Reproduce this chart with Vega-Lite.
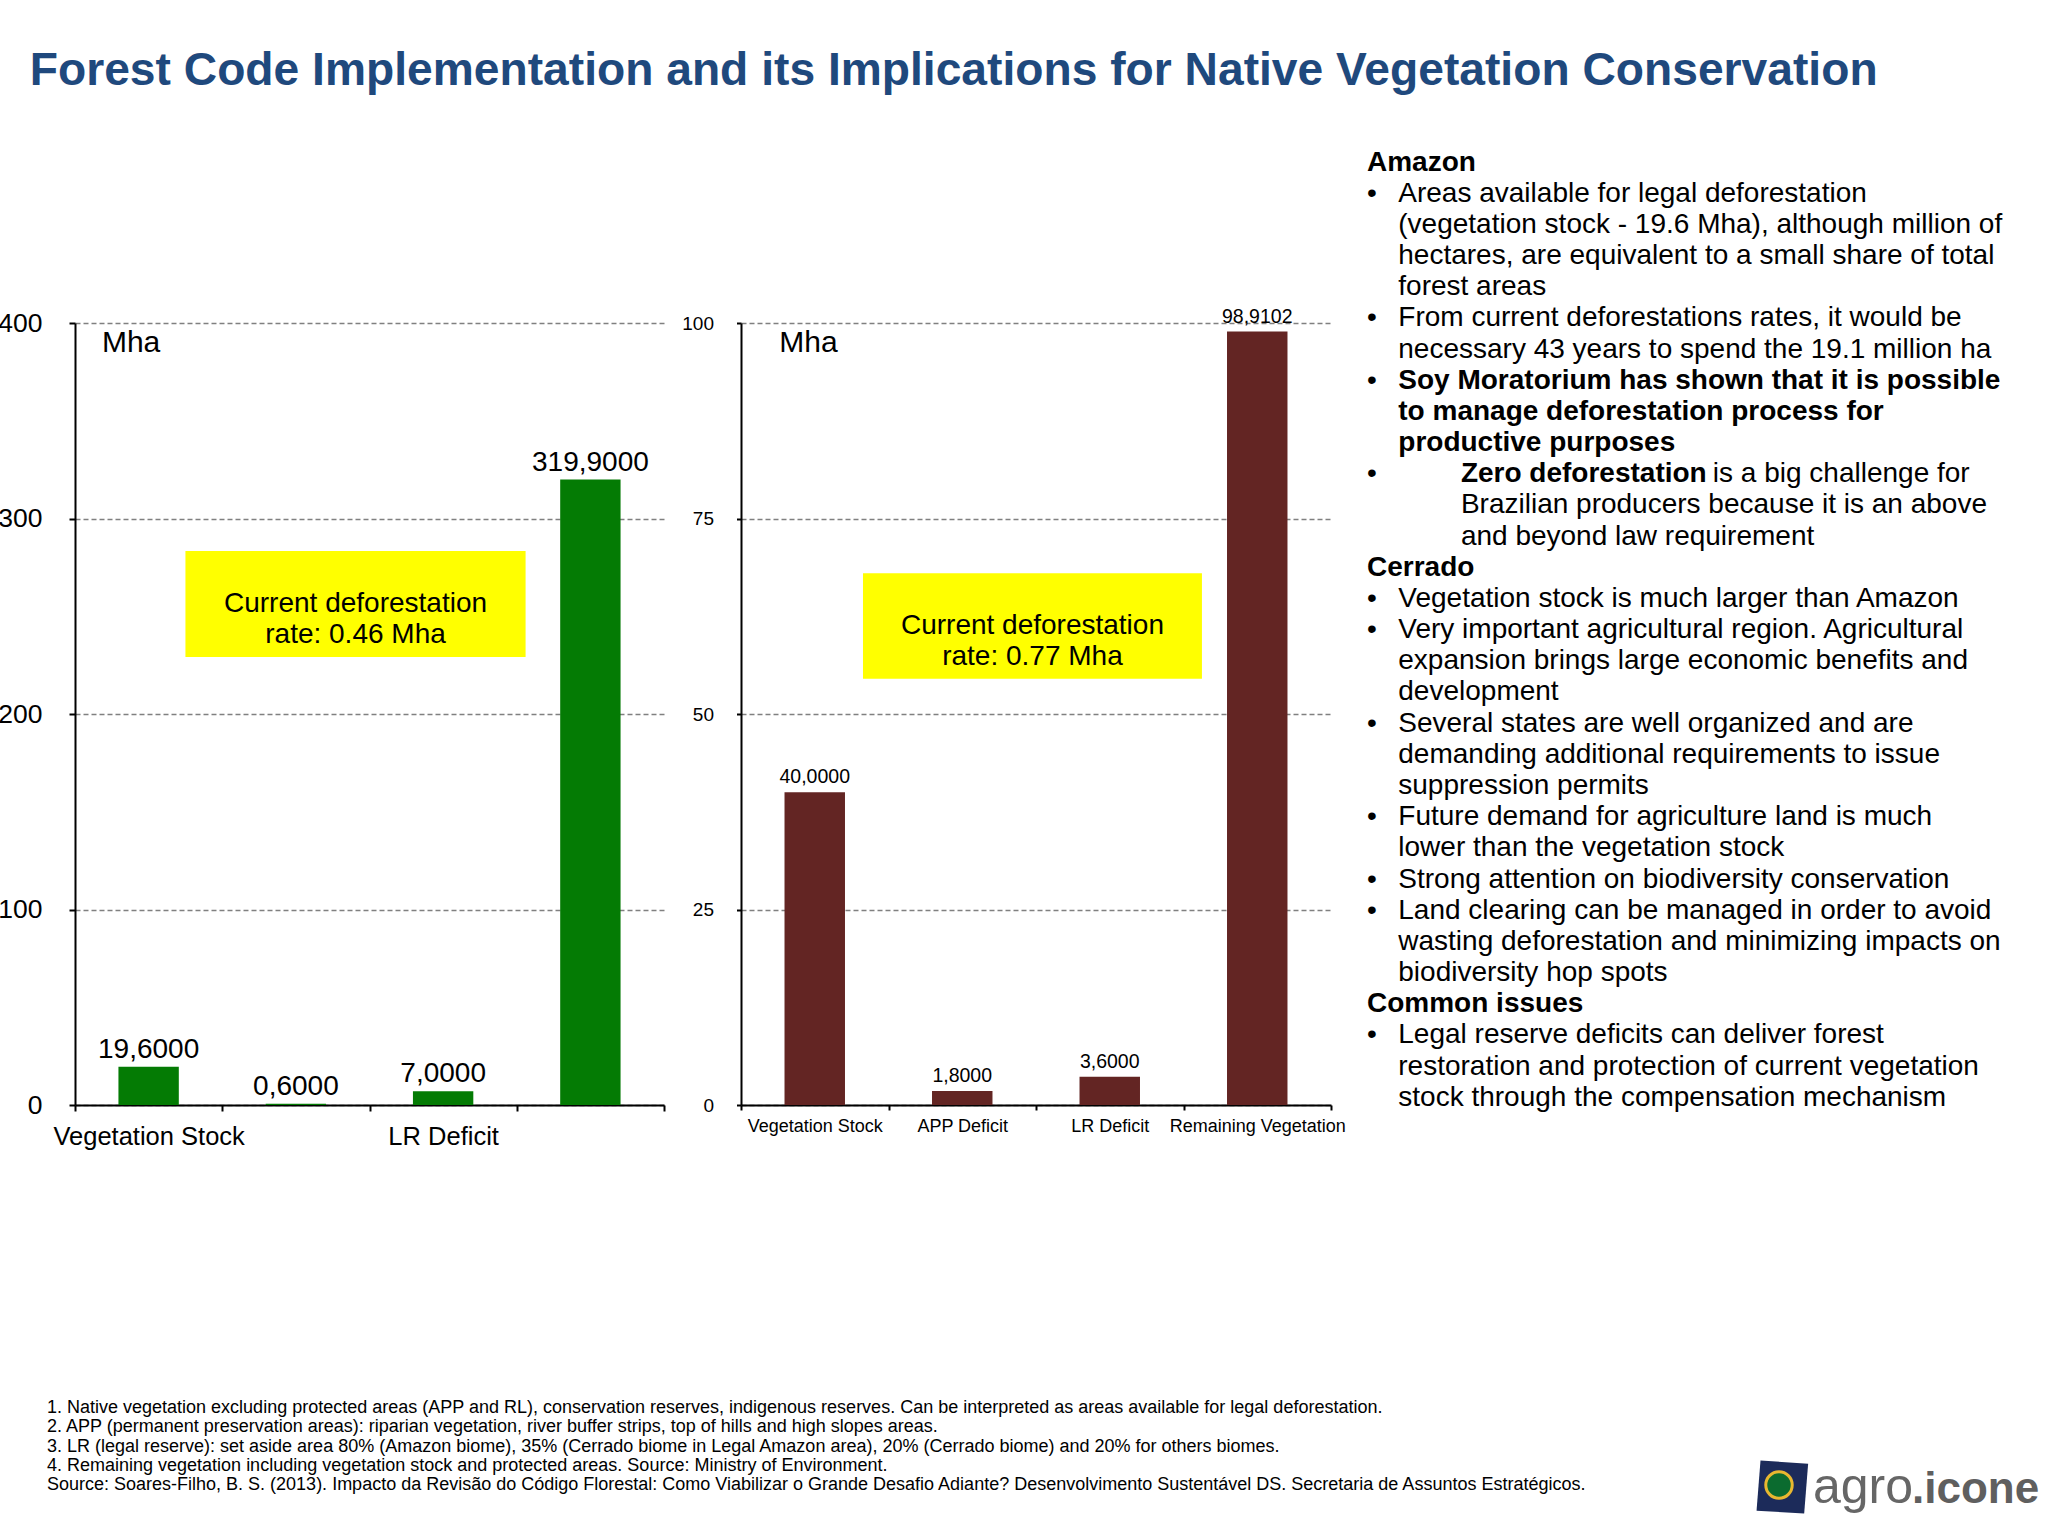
{
  "$schema": "https://vega.github.io/schema/vega-lite/v6.json",
  "background": "white",
  "padding": {"top": 47, "left": -3, "right": 0, "bottom": 0},
  "config": {
    "font": "Liberation Sans",
    "view": {"stroke": null},
    "locale": {"number": {"decimal": ",", "thousands": ".", "grouping": [3], "currency": ["", ""]}}
  },
  "title": {
    "text": "Forest Code Implementation and its Implications for Native Vegetation Conservation",
    "anchor": "start",
    "fontSize": 46.2,
    "fontWeight": "bold",
    "color": "#1F497D",
    "font": "Liberation Sans",
    "dx": 32,
    "offset": 53.5
  },
  "datasets": {
    "amazon": [
      {"category": "Vegetation Stock", "mha": 19.6},
      {"category": "APP Deficit", "mha": 0.6},
      {"category": "LR Deficit", "mha": 7.0},
      {"category": "Remaining Vegetation", "mha": 319.9}
    ],
    "cerrado": [
      {"category": "Vegetation Stock", "mha": 40.0},
      {"category": "APP Deficit", "mha": 1.8},
      {"category": "LR Deficit", "mha": 3.6},
      {"category": "Remaining Vegetation", "mha": 98.9102}
    ],
    "notes": [
      {"line": 0, "indent": 0, "style": "head", "bullet": false, "text": "Amazon"},
      {"line": 1, "indent": 1, "style": "body", "bullet": true, "text": "Areas available for legal deforestation"},
      {"line": 2, "indent": 1, "style": "body", "bullet": false, "text": "(vegetation stock - 19.6 Mha), although million of"},
      {"line": 3, "indent": 1, "style": "body", "bullet": false, "text": "hectares, are equivalent to a small share of total"},
      {"line": 4, "indent": 1, "style": "body", "bullet": false, "text": "forest areas"},
      {"line": 5, "indent": 1, "style": "body", "bullet": true, "text": "From current deforestations rates, it would be"},
      {"line": 6, "indent": 1, "style": "body", "bullet": false, "text": "necessary 43 years to spend the 19.1 million ha"},
      {"line": 7, "indent": 1, "style": "bold", "bullet": true, "text": "Soy Moratorium has shown that it is possible"},
      {"line": 8, "indent": 1, "style": "bold", "bullet": false, "text": "to manage deforestation process for"},
      {"line": 9, "indent": 1, "style": "bold", "bullet": false, "text": "productive purposes"},
      {"line": 10, "indent": 3, "style": "bold", "bullet": true, "text": "Zero deforestation"},
      {"line": 10, "indent": 11.05, "style": "body", "bullet": false, "text": "is a big challenge for"},
      {"line": 11, "indent": 3, "style": "body", "bullet": false, "text": "Brazilian producers because it is an above"},
      {"line": 12, "indent": 3, "style": "body", "bullet": false, "text": "and beyond law requirement"},
      {"line": 13, "indent": 0, "style": "head", "bullet": false, "text": "Cerrado"},
      {"line": 14, "indent": 1, "style": "body", "bullet": true, "text": "Vegetation stock is much larger than Amazon"},
      {"line": 15, "indent": 1, "style": "body", "bullet": true, "text": "Very important agricultural region. Agricultural"},
      {"line": 16, "indent": 1, "style": "body", "bullet": false, "text": "expansion brings large economic benefits and"},
      {"line": 17, "indent": 1, "style": "body", "bullet": false, "text": "development"},
      {"line": 18, "indent": 1, "style": "body", "bullet": true, "text": "Several states are well organized and are"},
      {"line": 19, "indent": 1, "style": "body", "bullet": false, "text": "demanding additional requirements to issue"},
      {"line": 20, "indent": 1, "style": "body", "bullet": false, "text": "suppression permits"},
      {"line": 21, "indent": 1, "style": "body", "bullet": true, "text": "Future demand for agriculture land is much"},
      {"line": 22, "indent": 1, "style": "body", "bullet": false, "text": "lower than the vegetation stock"},
      {"line": 23, "indent": 1, "style": "body", "bullet": true, "text": "Strong attention on biodiversity conservation"},
      {"line": 24, "indent": 1, "style": "body", "bullet": true, "text": "Land clearing can be managed in order to avoid"},
      {"line": 25, "indent": 1, "style": "body", "bullet": false, "text": "wasting deforestation and minimizing impacts on"},
      {"line": 26, "indent": 1, "style": "body", "bullet": false, "text": "biodiversity hop spots"},
      {"line": 27, "indent": 0, "style": "head", "bullet": false, "text": "Common issues"},
      {"line": 28, "indent": 1, "style": "body", "bullet": true, "text": "Legal reserve deficits can deliver forest"},
      {"line": 29, "indent": 1, "style": "body", "bullet": false, "text": "restoration and protection of current vegetation"},
      {"line": 30, "indent": 1, "style": "body", "bullet": false, "text": "stock through the compensation mechanism"}
    ],
    "footnotes": [
      {"line": 0, "text": "1. Native vegetation excluding protected areas (APP and RL), conservation reserves, indigenous reserves. Can be interpreted as areas available for legal deforestation."},
      {"line": 1, "text": "2. APP (permanent preservation areas): riparian vegetation, river buffer strips, top of hills and high slopes areas."},
      {"line": 2, "text": "3. LR (legal reserve): set aside area 80% (Amazon biome), 35% (Cerrado biome in Legal Amazon area), 20% (Cerrado biome) and 20% for others biomes."},
      {"line": 3, "text": "4. Remaining vegetation including vegetation stock and protected areas. Source: Ministry of Environment."},
      {"line": 4, "text": "Source: Soares-Filho, B. S. (2013).  Impacto da Revisão do Código Florestal: Como Viabilizar o Grande Desafio Adiante? Desenvolvimento Sustentável DS. Secretaria de Assuntos Estratégicos."}
    ]
  },
  "bounds": "flush",
  "spacing": 1072,
  "vconcat": [
    {
      "bounds": "flush",
      "spacing": 77,
      "hconcat": [
        {
          "width": 589,
          "height": 782,
          "resolve": {"scale": {"x": "independent"}},
          "layer": [
            {
              "data": {"name": "amazon"},
              "mark": {"type": "bar", "color": "#047B04", "width": {"band": 0.41}},
              "encoding": {
                "x": {
                  "field": "category", "type": "nominal",
                  "sort": ["Vegetation Stock", "APP Deficit", "LR Deficit", "Remaining Vegetation"],
                  "scale": {"paddingInner": 0, "paddingOuter": 0},
                  "axis": {
                    "title": null, "labelAngle": 0, "labelFontSize": 25.5, "labelColor": "black", "labelLimit": 600,
                    "labelExpr": "datum.value == 'Vegetation Stock' || datum.value == 'LR Deficit' ? datum.value : ''",
                    "labelOverlap": false, "labelPadding": 13, "tickBand": "extent", "tickSize": 6,
                    "tickColor": "black", "tickWidth": 2, "domainColor": "black", "domainWidth": 2, "grid": false
                  }
                },
                "y": {
                  "field": "mha", "type": "quantitative",
                  "scale": {"domain": [0, 400]},
                  "axis": {
                    "title": null, "values": [0, 100, 200, 300, 400], "labelFontSize": 26.5, "labelColor": "black",
                    "labelPadding": 27, "tickSize": 6, "tickColor": "black", "tickWidth": 2,
                    "domainColor": "black", "domainWidth": 2, "grid": true, "gridColor": "#808080",
                    "gridDash": [5, 3], "gridWidth": 1.3
                  }
                }
              }
            },
            {
              "data": {"name": "amazon"},
              "mark": {"type": "text", "baseline": "alphabetic", "dy": -9, "fontSize": 28, "color": "black"},
              "encoding": {
                "x": {"field": "category", "type": "nominal", "sort": ["Vegetation Stock", "APP Deficit", "LR Deficit", "Remaining Vegetation"], "scale": {"paddingInner": 0, "paddingOuter": 0}, "axis": null},
                "y": {"field": "mha", "type": "quantitative", "scale": {"domain": [0, 400]}, "title": null},
                "text": {"field": "mha", "type": "quantitative", "format": ".4f"}
              }
            },
            {
              "data": {"values": [{"x0": 0.75, "x1": 3.06, "y0": 229.2, "y1": 283.4}]},
              "mark": {"type": "rect", "color": "#FFFF00"},
              "encoding": {
                "x": {"field": "x0", "type": "quantitative", "scale": {"domain": [0, 4], "nice": false}, "axis": null},
                "x2": {"field": "x1"},
                "y": {"field": "y0", "type": "quantitative", "scale": {"domain": [0, 400]}, "title": null},
                "y2": {"field": "y1"}
              }
            },
            {
              "data": {"values": [{"cx": 1.905, "cy": 256.3, "label": "Current deforestation\nrate: 0.46 Mha"}]},
              "mark": {"type": "text", "align": "center", "baseline": "middle", "fontSize": 28, "lineHeight": 31, "lineBreak": "\n", "color": "black"},
              "encoding": {
                "x": {"field": "cx", "type": "quantitative", "scale": {"domain": [0, 4], "nice": false}, "axis": null},
                "y": {"field": "cy", "type": "quantitative", "scale": {"domain": [0, 400]}, "title": null},
                "text": {"field": "label"}
              }
            },
            {
              "data": {"values": [{"cx": 0.183, "cy": 385, "label": "Mha"}]},
              "mark": {"type": "text", "align": "left", "baseline": "alphabetic", "fontSize": 30, "color": "black"},
              "encoding": {
                "x": {"field": "cx", "type": "quantitative", "scale": {"domain": [0, 4], "nice": false}, "axis": null},
                "y": {"field": "cy", "type": "quantitative", "scale": {"domain": [0, 400]}, "title": null},
                "text": {"field": "label"}
              }
            }
          ]
        },
        {
          "width": 590,
          "height": 782,
          "resolve": {"scale": {"x": "independent"}},
          "layer": [
            {
              "data": {"name": "cerrado"},
              "mark": {"type": "bar", "color": "#632523", "width": {"band": 0.41}},
              "encoding": {
                "x": {
                  "field": "category", "type": "nominal",
                  "sort": ["Vegetation Stock", "APP Deficit", "LR Deficit", "Remaining Vegetation"],
                  "scale": {"paddingInner": 0, "paddingOuter": 0},
                  "axis": {
                    "title": null, "labelAngle": 0, "labelFontSize": 18, "labelColor": "black", "labelLimit": 600,
                    "labelOverlap": false, "labelPadding": 7.5, "tickBand": "extent", "tickSize": 5,
                    "tickColor": "black", "tickWidth": 2, "domainColor": "black", "domainWidth": 2, "grid": false
                  }
                },
                "y": {
                  "field": "mha", "type": "quantitative",
                  "scale": {"domain": [0, 100]},
                  "axis": {
                    "title": null, "values": [0, 25, 50, 75, 100], "labelFontSize": 19, "labelColor": "black",
                    "labelPadding": 23, "tickSize": 4.5, "tickColor": "black", "tickWidth": 2,
                    "domainColor": "black", "domainWidth": 2, "grid": true, "gridColor": "#808080",
                    "gridDash": [5, 3], "gridWidth": 1.3
                  }
                }
              }
            },
            {
              "data": {"name": "cerrado"},
              "mark": {"type": "text", "baseline": "alphabetic", "dy": -9, "fontSize": 19.5, "color": "black"},
              "encoding": {
                "x": {"field": "category", "type": "nominal", "sort": ["Vegetation Stock", "APP Deficit", "LR Deficit", "Remaining Vegetation"], "scale": {"paddingInner": 0, "paddingOuter": 0}, "axis": null},
                "y": {"field": "mha", "type": "quantitative", "scale": {"domain": [0, 100]}, "title": null},
                "text": {"field": "mha", "type": "quantitative", "format": ".4f"}
              }
            },
            {
              "data": {"values": [{"x0": 0.827, "x1": 3.125, "y0": 54.5, "y1": 68.0}]},
              "mark": {"type": "rect", "color": "#FFFF00"},
              "encoding": {
                "x": {"field": "x0", "type": "quantitative", "scale": {"domain": [0, 4], "nice": false}, "axis": null},
                "x2": {"field": "x1"},
                "y": {"field": "y0", "type": "quantitative", "scale": {"domain": [0, 100]}, "title": null},
                "y2": {"field": "y1"}
              }
            },
            {
              "data": {"values": [{"cx": 1.976, "cy": 61.25, "label": "Current deforestation\nrate: 0.77 Mha"}]},
              "mark": {"type": "text", "align": "center", "baseline": "middle", "fontSize": 28, "lineHeight": 31, "lineBreak": "\n", "color": "black"},
              "encoding": {
                "x": {"field": "cx", "type": "quantitative", "scale": {"domain": [0, 4], "nice": false}, "axis": null},
                "y": {"field": "cy", "type": "quantitative", "scale": {"domain": [0, 100]}, "title": null},
                "text": {"field": "label"}
              }
            },
            {
              "data": {"values": [{"cx": 0.26, "cy": 96.3, "label": "Mha"}]},
              "mark": {"type": "text", "align": "left", "baseline": "alphabetic", "fontSize": 30, "color": "black"},
              "encoding": {
                "x": {"field": "cx", "type": "quantitative", "scale": {"domain": [0, 4], "nice": false}, "axis": null},
                "y": {"field": "cy", "type": "quantitative", "scale": {"domain": [0, 100]}, "title": null},
                "text": {"field": "label"}
              }
            }
          ]
        },
        {
          "width": 650,
          "height": 782,
          "data": {"name": "notes"},
          "encoding": {
            "y": {"field": "line", "type": "quantitative", "scale": {"domain": [0, 30], "range": [-160.4, 774.7], "nice": false, "zero": false}, "axis": null},
            "x": {"field": "indent", "type": "quantitative", "scale": {"domain": [0, 20], "range": [-41, 585], "nice": false}, "axis": null},
            "text": {"field": "text"}
          },
          "layer": [
            {
              "transform": [{"filter": "datum.style == 'head'"}],
              "mark": {"type": "text", "align": "left", "baseline": "middle", "fontSize": 28, "fontWeight": "bold", "color": "black"}
            },
            {
              "transform": [{"filter": "datum.style == 'body'"}],
              "mark": {"type": "text", "align": "left", "baseline": "middle", "fontSize": 28, "color": "black"}
            },
            {
              "transform": [{"filter": "datum.style == 'bold'"}],
              "mark": {"type": "text", "align": "left", "baseline": "middle", "fontSize": 28, "fontWeight": "bold", "color": "black"}
            },
            {
              "transform": [{"filter": "datum.bullet"}],
              "mark": {"type": "text", "align": "left", "baseline": "middle", "fontSize": 28, "color": "black"},
              "encoding": {
                "x": {"datum": 0, "type": "quantitative"},
                "text": {"value": "•"}
              }
            }
          ]
        }
      ]
    },
    {
      "bounds": "flush",
      "spacing": 21,
      "hconcat": [
        {
          "width": 1650,
          "height": 110,
          "data": {"name": "footnotes"},
          "mark": {"type": "text", "align": "left", "baseline": "alphabetic", "fontSize": 18, "dx": -28, "color": "black"},
          "encoding": {
            "x": {"datum": 0, "type": "quantitative", "scale": {"domain": [0, 1], "range": [0, 1650]}, "axis": null},
            "y": {"field": "line", "type": "quantitative", "scale": {"domain": [0, 4], "range": [18.3, 95], "nice": false, "zero": false}, "axis": null},
            "text": {"field": "text"}
          }
        },
        {
          "width": 290,
          "height": 110,
          "encoding": {
            "x": {"field": "px", "type": "quantitative", "scale": {"domain": [0, 290], "range": [0, 290], "nice": false}, "axis": null},
            "y": {"field": "py", "type": "quantitative", "scale": {"domain": [0, 110], "range": [0, 110], "nice": false}, "axis": null}
          },
          "layer": [
            {
              "data": {"values": [{"part": "badge", "px": 37, "py": 92}]},
              "mark": {"type": "point", "shape": "M-0.85,-1 L0.95,-0.88 L0.8,1 L-1,0.9 Z", "size": 2800, "filled": true, "color": "#1C2B5A", "opacity": 1}
            },
            {
              "data": {"values": [{"part": "globe", "px": 33, "py": 90}]},
              "mark": {"type": "point", "shape": "circle", "size": 700, "filled": true, "fill": "#0B6B2F", "stroke": "#E8B730", "strokeWidth": 3, "opacity": 1}
            },
            {
              "data": {"values": [{"part": "agro", "px": 67, "py": 108, "label": "agro"}]},
              "mark": {"type": "text", "align": "left", "baseline": "alphabetic", "fontSize": 50, "color": "#666666"},
              "encoding": {"text": {"field": "label"}}
            },
            {
              "data": {"values": [{"part": "icone", "px": 166, "py": 108, "label": ".icone"}]},
              "mark": {"type": "text", "align": "left", "baseline": "alphabetic", "fontSize": 44, "fontWeight": "bold", "color": "#5F5F5F"},
              "encoding": {"text": {"field": "label"}}
            }
          ]
        }
      ]
    }
  ]
}
